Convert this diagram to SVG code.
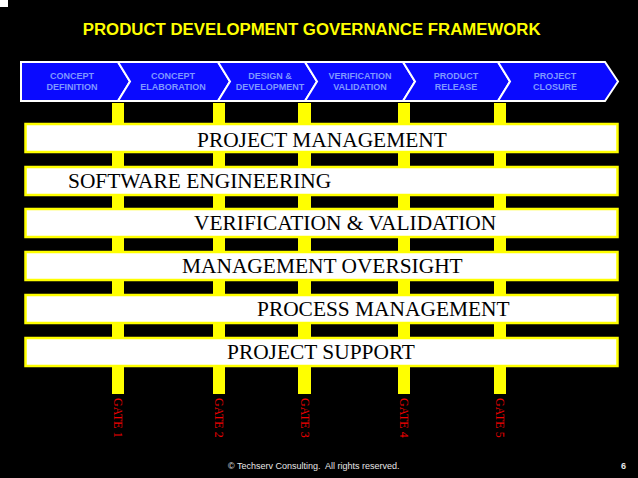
<svg xmlns="http://www.w3.org/2000/svg" width="638" height="478" viewBox="0 0 638 478">
<style>
.title{font-family:"Liberation Sans",Arial,sans-serif;font-weight:bold;font-size:16.8px;fill:#ffff00}
.chev{fill:#0a0aff;stroke:#ffffff;stroke-width:2;stroke-linejoin:miter}
.ct{font-family:"Liberation Sans",Arial,sans-serif;font-weight:bold;font-size:9px;fill:#7f98ff;text-anchor:middle}
.col{fill:#ffff00}
.bar{fill:#ffffff;stroke:#ffff00;stroke-width:2.5}
.bt{font-family:"Liberation Serif","Times New Roman",serif;font-size:21.4px;fill:#000000}
.gt{font-family:"Liberation Serif","Times New Roman",serif;font-size:12px;fill:#f00000}
.ft{font-family:"Liberation Sans",Arial,sans-serif;font-size:9px;fill:#e8e8e8;white-space:pre}
</style>
<rect x="0" y="0" width="638" height="478" fill="#000000"/>
<rect x="0" y="0" width="8" height="7" fill="#ffffff"/>
<text class="title" x="311.7" y="35" text-anchor="middle">PRODUCT DEVELOPMENT GOVERNANCE FRAMEWORK</text>

<g id="gates">
  <rect class="col" x="112" y="103" width="12" height="291"/>
  <rect class="col" x="213" y="103" width="12" height="291"/>
  <rect class="col" x="298" y="103" width="13" height="291"/>
  <rect class="col" x="398" y="103" width="12" height="291"/>
  <rect class="col" x="494" y="103" width="12" height="291"/>
</g>

<g id="phases">
  <g id="phase1"><polygon class="chev" points="21,62 118,62 130,81.5 118,101 21,101"/>
    <text class="ct" x="72" y="79">CONCEPT</text><text class="ct" x="72" y="90">DEFINITION</text></g>
  <g id="phase2"><polygon class="chev" points="118,62 218,62 230,81.5 218,101 118,101 130,81.5"/>
    <text class="ct" x="173" y="79">CONCEPT</text><text class="ct" x="173" y="90">ELABORATION</text></g>
  <g id="phase3"><polygon class="chev" points="218,62 305,62 317,81.5 305,101 218,101 230,81.5"/>
    <text class="ct" x="270" y="79">DESIGN &amp;</text><text class="ct" x="270" y="90">DEVELOPMENT</text></g>
  <g id="phase4"><polygon class="chev" points="305,62 403,62 415,81.5 403,101 305,101 317,81.5"/>
    <text class="ct" x="360" y="78.5">VERIFICATION</text><text class="ct" x="360" y="89.5">VALIDATION</text></g>
  <g id="phase5"><polygon class="chev" points="403,62 498,62 510,81.5 498,101 403,101 415,81.5"/>
    <text class="ct" x="456" y="78.5">PRODUCT</text><text class="ct" x="456" y="89.5">RELEASE</text></g>
  <g id="phase6"><polygon class="chev" points="498,62 605,62 618,81.5 605,101 498,101 510,81.5"/>
    <text class="ct" x="555" y="78.5">PROJECT</text><text class="ct" x="555" y="89.5">CLOSURE</text></g>
</g>

<g id="bar1"><rect class="bar" x="25.5" y="124" width="592" height="28"/><text class="bt" x="197" y="146.5">PROJECT MANAGEMENT</text></g>
<g id="bar2"><rect class="bar" x="25.5" y="167" width="592" height="28"/><text class="bt" x="68" y="188">SOFTWARE ENGINEERING</text></g>
<g id="bar3"><rect class="bar" x="25.5" y="209" width="592" height="28"/><text class="bt" x="194" y="230">VERIFICATION &amp; VALIDATION</text></g>
<g id="bar4"><rect class="bar" x="25.5" y="252" width="592" height="28"/><text class="bt" x="182" y="273">MANAGEMENT OVERSIGHT</text></g>
<g id="bar5"><rect class="bar" x="25.5" y="295" width="592" height="28"/><text class="bt" x="257" y="316">PROCESS MANAGEMENT</text></g>
<g id="bar6"><rect class="bar" x="25.5" y="338" width="592" height="28"/><text class="bt" x="227" y="359">PROJECT SUPPORT</text></g>

<g id="gate-labels">
  <g id="gate1"><text class="gt" transform="translate(118,398) rotate(90)" x="0" y="4">GATE 1</text></g>
  <g id="gate2"><text class="gt" transform="translate(219,398) rotate(90)" x="0" y="4">GATE 2</text></g>
  <g id="gate3"><text class="gt" transform="translate(304.5,398) rotate(90)" x="0" y="4">GATE 3</text></g>
  <g id="gate4"><text class="gt" transform="translate(404,398) rotate(90)" x="0" y="4">GATE 4</text></g>
  <g id="gate5"><text class="gt" transform="translate(500,398) rotate(90)" x="0" y="4">GATE 5</text></g>
</g>

<g id="connectors"></g>

<text class="ft" x="228" y="469">© Techserv Consulting.  All rights reserved.</text>
<text class="ft" x="621" y="469" font-weight="bold">6</text>
</svg>
